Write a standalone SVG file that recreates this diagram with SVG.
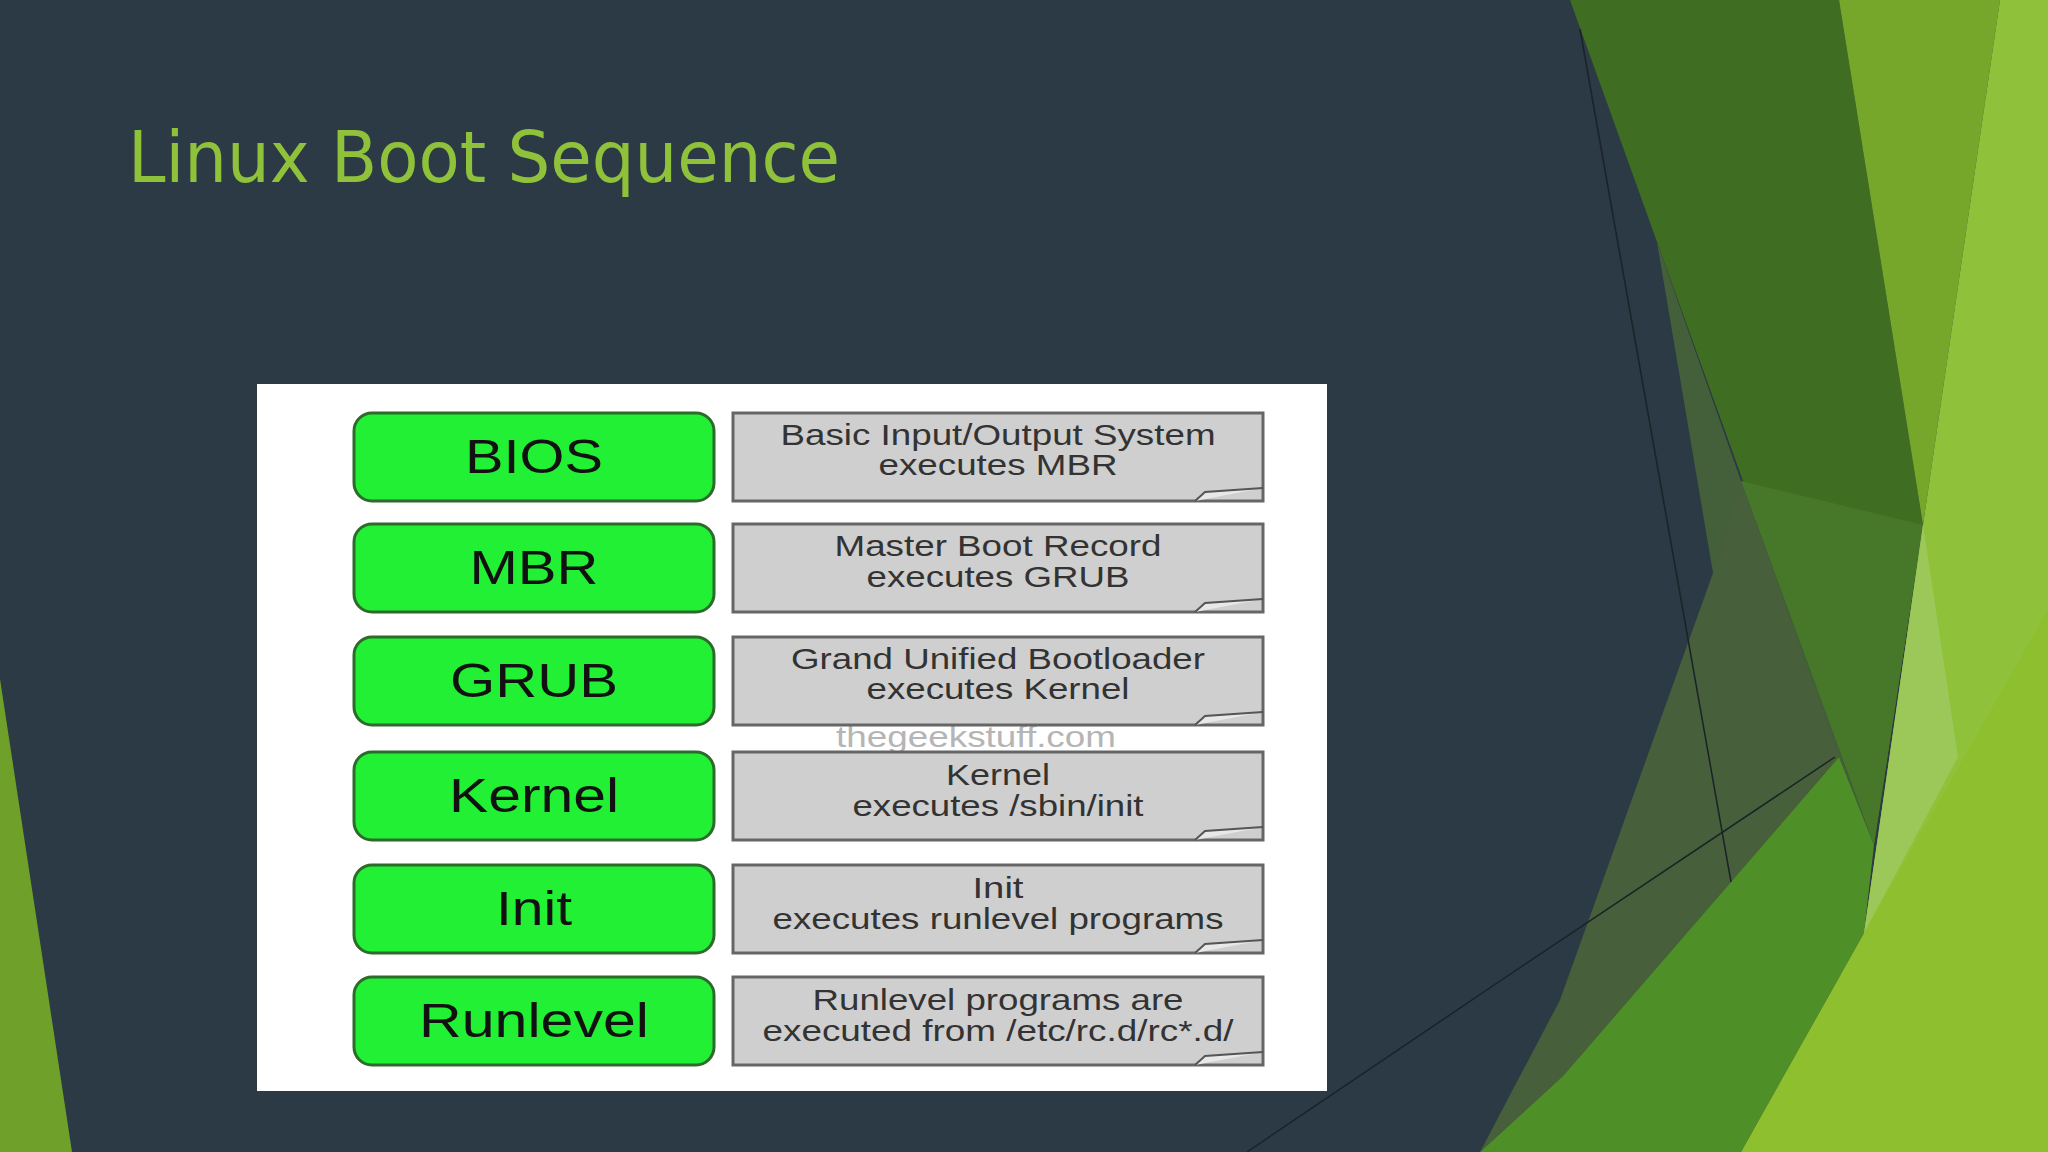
<svg xmlns="http://www.w3.org/2000/svg" width="2048" height="1152" viewBox="0 0 2048 1152">
<style>
.g rect{fill:#22f035;stroke:#2d6b2d;stroke-width:3}
.g text{font-family:"Liberation Sans",Arial,sans-serif;font-size:48px;fill:#111;text-anchor:middle}
.d rect{fill:#cfcfcf;stroke:#666;stroke-width:3}
.d text{font-family:"Liberation Sans",Arial,sans-serif;font-size:30px;fill:#333;text-anchor:middle}
.d path{fill:#e8e8e8;stroke:#555;stroke-width:2}
</style>
<rect width="2048" height="1152" fill="#2b3a44"/>
<g id="decor">
<polygon points="0,679 72,1152 0,1152" fill="#6fa12a"/>
<polygon points="1570,0 1839,0 1923,525 1874,845" fill="#3f6e23"/>
<polygon points="1839,0 2000,0 1923,525" fill="#76a72a"/>
<polygon points="1657,242 1741,481 1874,845 1839,757 1713,573" fill="#4a6a3a" opacity="0.8"/>
<polygon points="1713,573 1741,481 1839,757 1563,1076 1480,1152 1560,1000" fill="#475f3a"/>
<polygon points="1741,481 1923,525 1874,845" fill="#47782a"/>
<polygon points="1480,1152 1563,1076 1839,757 1874,845 1864,933 1741,1152" fill="#4f8f27"/>
<polygon points="2000,0 2048,0 2048,1152 1832,1152 1864,933 1923,525" fill="#8fc23a"/>
<polygon points="1923,525 1958,757 1864,933" fill="#9cc85a"/>
<polygon points="1741,1152 1864,933 2048,610 2048,1152" fill="#8dbf2e"/>
<line x1="1580" y1="29" x2="1731" y2="882" stroke="#1b2228" stroke-width="1.5"/>
<line x1="1247" y1="1152" x2="1500" y2="981" stroke="#1b2228" stroke-width="1.5"/>
<line x1="1500" y1="981" x2="1835" y2="757" stroke="#1b2228" stroke-width="1.5"/>
</g>
<text id="title" x="128" y="182" font-family="'DejaVu Sans',sans-serif" font-size="72" fill="#8fc13a" textLength="712" lengthAdjust="spacingAndGlyphs">Linux Boot Sequence</text>
<rect id="panel" x="257" y="384" width="1070" height="707" fill="#ffffff"/>
<text x="976" y="747" font-family="'Liberation Sans',sans-serif" font-size="30" fill="#b5b5b5" text-anchor="middle" textLength="280" lengthAdjust="spacingAndGlyphs">thegeekstuff.com</text>
<g id="n1"><g class="g"><rect x="354" y="413" width="360" height="88" rx="18"/><text x="534" y="473" textLength="138" lengthAdjust="spacingAndGlyphs">BIOS</text></g>
<g class="d"><rect x="733" y="413" width="530" height="88"/><path d="M1195,501 L1205,492 L1263,488"/><text x="998" y="445" textLength="435" lengthAdjust="spacingAndGlyphs">Basic Input/Output System</text><text x="998" y="475" textLength="239" lengthAdjust="spacingAndGlyphs">executes MBR</text></g></g>
<g id="n2"><g class="g"><rect x="354" y="524" width="360" height="88" rx="18"/><text x="534" y="584" textLength="129" lengthAdjust="spacingAndGlyphs">MBR</text></g>
<g class="d"><rect x="733" y="524" width="530" height="88"/><path d="M1195,612 L1205,603 L1263,599"/><text x="998" y="556" textLength="327" lengthAdjust="spacingAndGlyphs">Master Boot Record</text><text x="998" y="587" textLength="263" lengthAdjust="spacingAndGlyphs">executes GRUB</text></g></g>
<g id="n3"><g class="g"><rect x="354" y="637" width="360" height="88" rx="18"/><text x="534" y="697" textLength="168" lengthAdjust="spacingAndGlyphs">GRUB</text></g>
<g class="d"><rect x="733" y="637" width="530" height="88"/><path d="M1195,725 L1205,716 L1263,712"/><text x="998" y="669" textLength="414" lengthAdjust="spacingAndGlyphs">Grand Unified Bootloader</text><text x="998" y="699" textLength="263" lengthAdjust="spacingAndGlyphs">executes Kernel</text></g></g>
<g id="n4"><g class="g"><rect x="354" y="752" width="360" height="88" rx="18"/><text x="534" y="812" textLength="170" lengthAdjust="spacingAndGlyphs">Kernel</text></g>
<g class="d"><rect x="733" y="752" width="530" height="88"/><path d="M1195,840 L1205,831 L1263,827"/><text x="998" y="785" textLength="104" lengthAdjust="spacingAndGlyphs">Kernel</text><text x="998" y="816" textLength="291" lengthAdjust="spacingAndGlyphs">executes /sbin/init</text></g></g>
<g id="n5"><g class="g"><rect x="354" y="865" width="360" height="88" rx="18"/><text x="534" y="925" textLength="76" lengthAdjust="spacingAndGlyphs">Init</text></g>
<g class="d"><rect x="733" y="865" width="530" height="88"/><path d="M1195,953 L1205,944 L1263,940"/><text x="998" y="898" textLength="51" lengthAdjust="spacingAndGlyphs">Init</text><text x="998" y="929" textLength="451" lengthAdjust="spacingAndGlyphs">executes runlevel programs</text></g></g>
<g id="n6"><g class="g"><rect x="354" y="977" width="360" height="88" rx="18"/><text x="534" y="1037" textLength="230" lengthAdjust="spacingAndGlyphs">Runlevel</text></g>
<g class="d"><rect x="733" y="977" width="530" height="88"/><path d="M1195,1065 L1205,1056 L1263,1052"/><text x="998" y="1010" textLength="371" lengthAdjust="spacingAndGlyphs">Runlevel programs are</text><text x="998" y="1041" textLength="471" lengthAdjust="spacingAndGlyphs">executed from /etc/rc.d/rc*.d/</text></g></g>
<g id="connectors"/>
</svg>
